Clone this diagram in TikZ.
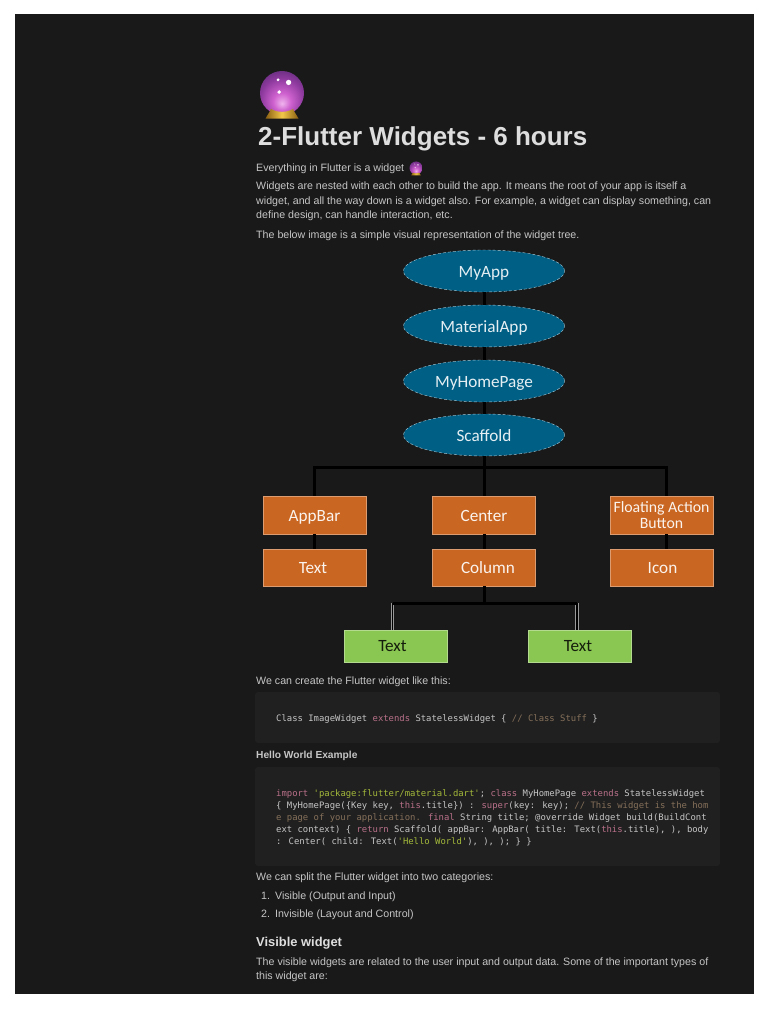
\documentclass[tikz,border=0pt]{standalone}
\usepackage{fontspec}
\setmainfont{Liberation Sans}
\newfontfamily\codefont{DejaVu Sans Mono}
\newfontfamily\treefont{Carlito}
\usetikzlibrary{shapes.geometric,calc}

\definecolor{pagebg}{HTML}{191919}
\definecolor{codebg}{HTML}{202020}
\definecolor{bodytxt}{HTML}{C6C6C6}
\definecolor{headtxt}{HTML}{DEDEDE}
\definecolor{kwcol}{HTML}{B9708A}
\definecolor{cmtcol}{HTML}{85705A}
\definecolor{strcol}{HTML}{A3B93A}
\definecolor{ellfill}{HTML}{005F85}
\definecolor{boxfill}{HTML}{C96622}
\definecolor{leaffill}{HTML}{8AC652}
\definecolor{glowa}{HTML}{F0B4EE}
\definecolor{glowb}{HTML}{CF62CF}
\definecolor{glowc}{HTML}{8E3A9E}
\definecolor{glowd}{HTML}{4A2468}
\definecolor{goldmid}{HTML}{F2C84A}
\definecolor{goldend}{HTML}{8A5F12}

\pgfdeclareradialshading{ballglow}{\pgfpoint{0bp}{-12bp}}{color(0bp)=(glowa); color(10bp)=(glowb); color(24bp)=(glowc); color(40bp)=(glowd); color(60bp)=(glowd)}

\newcommand{\kw}[1]{\textcolor{kwcol}{#1}}
\newcommand{\cmt}[1]{\textcolor{cmtcol}{#1}}
\newcommand{\strg}[1]{\textcolor{strcol}{#1}}

\tikzset{
	para/.style={anchor=base west,inner sep=0pt,text=bodytxt,font=\fontsize{10.65}{12}\selectfont},
	codeline/.style={anchor=base west,inner sep=0pt,text=bodytxt,font=\codefont\fontsize{8.9}{12}\selectfont},
	codeblock/.style={fill=codebg,rounded corners=3pt},
	widget/.style={ellipse,draw=white!70!ellfill,densely dashed,fill=ellfill,text=white!90!ellfill,minimum width=161pt,minimum height=42pt,inner sep=0pt,text height=13.5pt,text depth=1.5pt,font=\treefont\fontsize{17.2}{18}\selectfont},
	orange/.style={rectangle,draw=white!35!boxfill,fill=boxfill,text=white!92!boxfill,minimum width=103pt,inner sep=0pt,align=center,text height=13.5pt,text depth=1.5pt,font=\treefont\fontsize{17.2}{18}\selectfont},
	leaf/.style={rectangle,draw=white!35!leaffill,fill=leaffill,text=black!85!leaffill,minimum width=103pt,minimum height=32pt,inner sep=0pt,text height=12.5pt,text depth=2.5pt,font=\treefont\fontsize{17.2}{18}\selectfont},
	trunk/.style={black,line width=3pt},
	thinlink/.style={draw=white!60!black,double=black,double distance=1.6pt,line width=.9pt},
	ball/.pic={
		\shade[shading=ballglow] (0,.3) circle (1);
		\fill[white] (.3,-.18) circle (.12);
		\fill[white] (-.18,-.3) circle (.07);
		\fill[white] (-.13,.26) circle (.09);
		\shade[left color=goldend,right color=goldend,middle color=goldmid] (-.5,1.02) .. controls (-.25,1.2) and (.25,1.2) .. (.5,1.02) .. controls (.6,1.25) and (.7,1.35) .. (.75,1.46) -- (-.75,1.46) .. controls (-.7,1.35) and (-.6,1.25) .. cycle;
	}
}

\begin{document}
\begin{tikzpicture}[x=1pt,y=-1pt]
	\useasboundingbox (0,0) rectangle (768,1024);
	%fundo
	\fill[white] (0,0) rectangle (768,1024);
	\fill[pagebg] (15,14) rectangle (754,993.5);
	%titulo
	\pic[scale=22] at (282,86.4) {ball};
	\node[anchor=base west,inner sep=0pt,text=headtxt,font=\bfseries\fontsize{26}{28}\selectfont] (title) at (258,146) {2-Flutter Widgets - 6 hours};
	%paragrafos
	\node[para] (p1) at (256,171.5) {Everything in Flutter is a widget};
	\pic[scale=6.5] at (416,166) {ball};
	\node[para] (p2) at (256,190) {Widgets are nested with each other to build the app. It means the root of your app is itself a};
	\node[para] (p3) at (256,204.5) {widget, and all the way down is a widget also. For example, a widget can display something, can};
	\node[para] (p4) at (256,218.5) {define design, can handle interaction, etc.};
	\node[para] (p5) at (256,238) {The below image is a simple visual representation of the widget tree.};
	%elipses
	\node[widget] (myapp) at (484,271) {MyApp};
	\node[widget] (material) at (484,326) {MaterialApp};
	\node[widget] (homepage) at (484,381) {MyHomePage};
	\node[widget] (scaffold) at (484,435) {Scaffold};
	%caixas
	\node[orange,minimum height=38pt] (appbar) at (314.5,515) {AppBar};
	\node[orange,minimum height=38pt] (center) at (484,515) {Center};
	\node[orange,minimum height=38pt,text height=,text depth=,font=\treefont\fontsize{15.8}{16}\selectfont] (fab) at (661.5,515) {Floating Action\\Button};
	\node[orange,minimum height=37pt] (apptext) at (314.5,567.5) {Text\hspace*{3pt}};
	\node[orange,minimum height=37pt] (column) at (484,567.5) {\hspace*{8pt}Column};
	\node[orange,minimum height=37pt] (icon) at (661.5,567.5) {\hspace*{2pt}Icon};
	\node[leaf] (leafa) at (395.5,646) {Text\hspace*{6pt}};
	\node[leaf] (leafb) at (579.5,646) {Text\hspace*{3pt}};
	%ligacoes
	\coordinate (bus) at (484,467);
	\coordinate (busr) at (666,467);
	\coordinate (fabtop) at (666,496);
	\coordinate (fabbot) at (666,534);
	\coordinate (icontop) at (666,549);
	\coordinate (fork) at (484,603);
	\coordinate (forka) at (392.5,603);
	\coordinate (forkb) at (577,603);
	\coordinate (leafatop) at (392.5,630);
	\coordinate (leafbtop) at (577,630);
	\foreach \a/\b in {myapp/material,material/homepage,homepage/scaffold,scaffold/center,center/column,appbar/apptext}
		\draw[trunk] (\a.south) -- (\b.north);
	\draw[trunk] (appbar.north) |- (bus) -- (busr) -- (fabtop);
	\draw[trunk] (fabbot) -- (icontop);
	\draw[thinlink] (forka) -- (leafatop);
	\draw[thinlink] (forkb) -- (leafbtop);
	\draw[trunk] (column.south) -- (fork);
	\draw[trunk] (forka) -- (forkb);
	%codigo
	\node[para] (p6) at (256,684.5) {We can create the Flutter widget like this:};
	\fill[codeblock] (255,692) rectangle (720,743);
	\node[codeline] (c0) at (276,721) {Class ImageWidget \kw{extends} StatelessWidget \{ \cmt{// Class Stuff} \}};
	\node[para,font=\bfseries\fontsize{10.2}{12}\selectfont] (hello) at (256,758.5) {Hello World Example};
	\fill[codeblock] (255,767) rectangle (720,866);
	\node[codeline] (c1) at (276,796) {\kw{import} \strg{'package:flutter/material.dart'}; \kw{class} MyHomePage \kw{extends} StatelessWidget};
	\node[codeline] (c2) at (276,808) {\{ MyHomePage(\{Key key, \kw{this}.title\}) : \kw{super}(key: key); \cmt{// This widget is the hom}};
	\node[codeline] (c3) at (276,820) {\cmt{e page of your application.} \kw{final} String title; @override Widget build(BuildCont};
	\node[codeline] (c4) at (276,832) {ext context) \{ \kw{return} Scaffold( appBar: AppBar( title: Text(\kw{this}.title), ), body};
	\node[codeline] (c5) at (276,844) {: Center( child: Text(\strg{'Hello World'}), ), ); \} \}};
	%lista
	\node[para] (p7) at (256,880.5) {We can split the Flutter widget into two categories:};
	\node[para] (li1) at (261,899.5) {1.\hspace{5pt}Visible (Output and Input)};
	\node[para] (li2) at (261,917.5) {2.\hspace{5pt}Invisible (Layout and Control)};
	\node[para,text=headtxt,font=\bfseries\fontsize{12.9}{15}\selectfont] (vis) at (256,946.5) {Visible widget};
	\node[para] (p8) at (256,965) {The visible widgets are related to the user input and output data. Some of the important types of};
	\node[para] (p9) at (256,979) {this widget are:};
\end{tikzpicture}
\end{document}
